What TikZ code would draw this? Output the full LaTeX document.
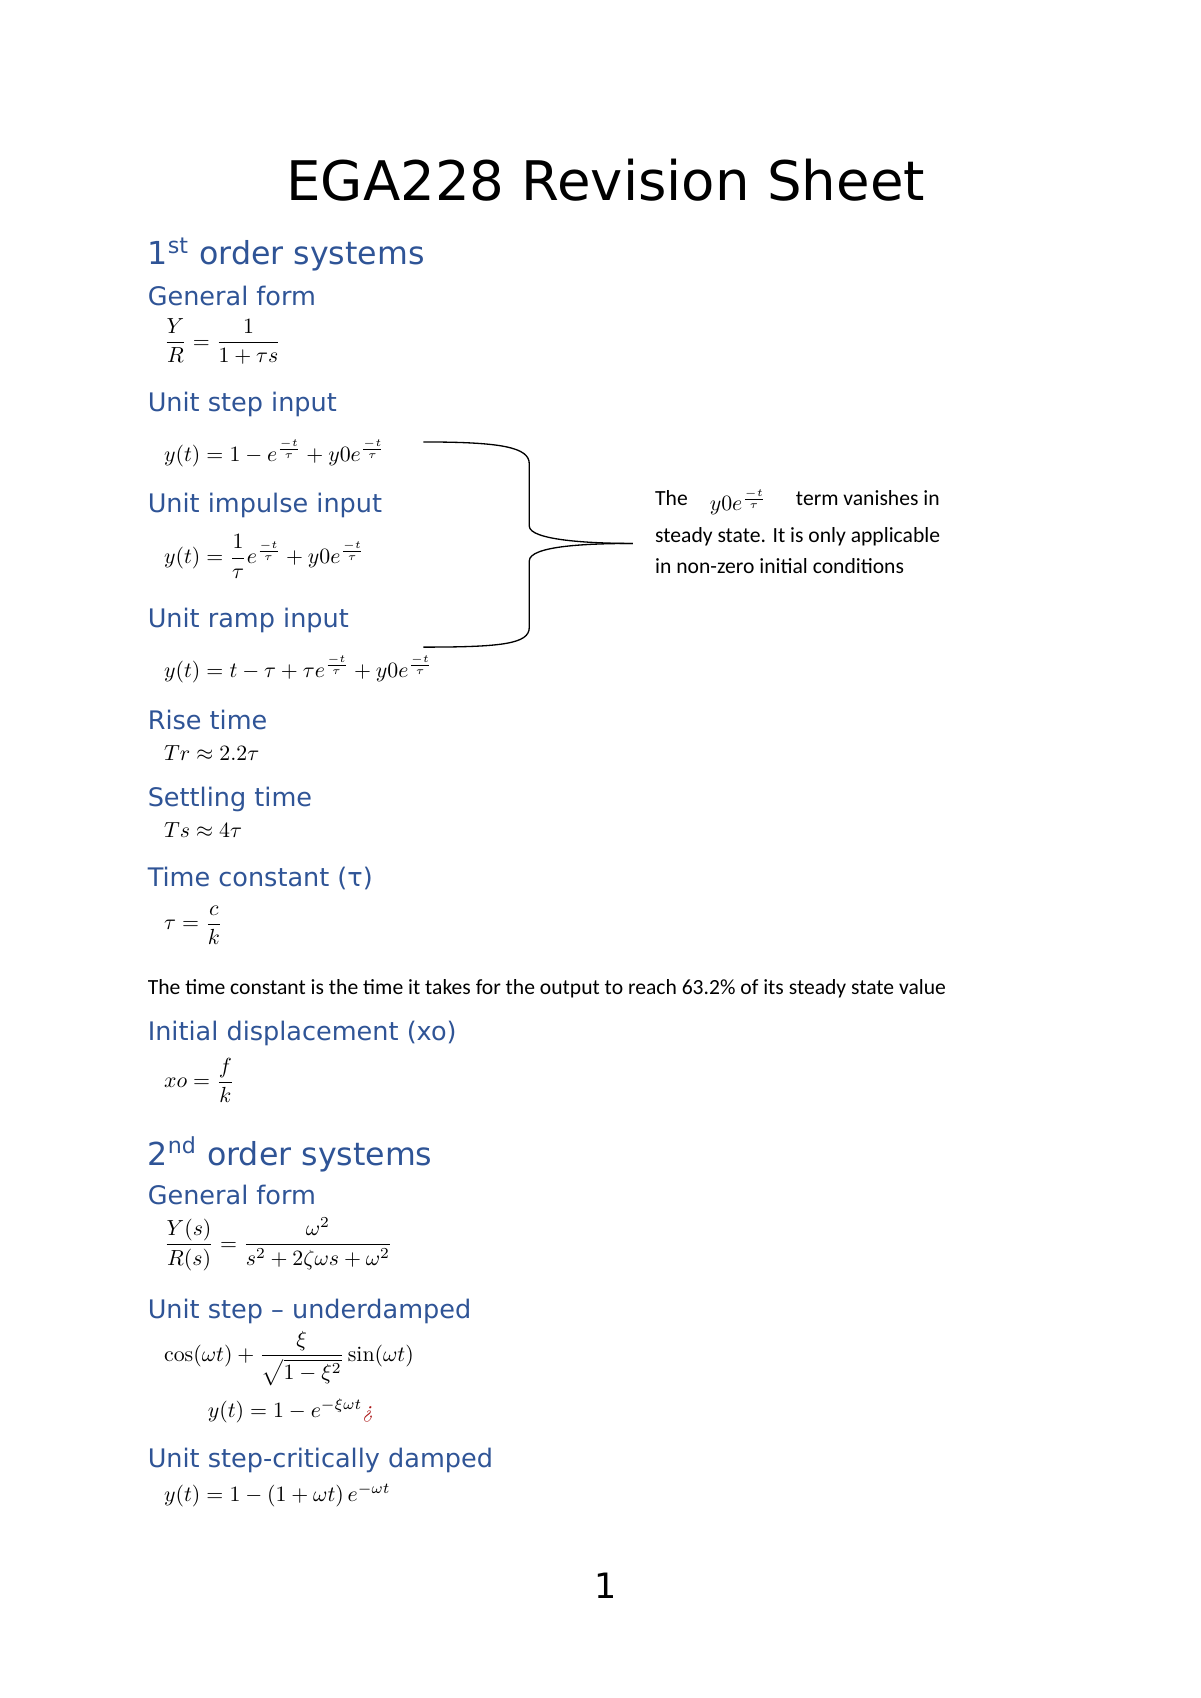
\documentclass[tikz,border=0pt]{standalone}
\usepackage{fix-cm}
\usepackage{amsmath}
\usepackage{fontspec}
\setsansfont{DejaVu Sans}
\newfontfamily\bodyf{Carlito}
\definecolor{hblue}{RGB}{47,84,150}
\definecolor{qred}{RGB}{170,20,20}
\tikzset{
 ttl/.style={anchor=center,font=\sffamily\fontsize{25}{27}\selectfont},
 h1/.style={anchor=west,text=hblue,font=\sffamily\fontsize{14.5}{17}\selectfont,inner sep=0},
 h2/.style={anchor=west,text=hblue,font=\sffamily\fontsize{11.7}{13}\selectfont,inner sep=0},
 eq/.style={anchor=west,inner sep=0,font=\fontsize{10}{12}\selectfont},
 body/.style={anchor=west,inner sep=0,font=\bodyf\fontsize{9.9}{11}\selectfont},
 brace/.style={draw,line width=0.6pt}
}
\begin{document}
\begin{tikzpicture}[x=0.5pt,y=-0.5pt]
\useasboundingbox (0,0) rectangle (1100,1556);
\node[ttl] (title) at (555,165) {EGA228 Revision Sheet};
\node[h1] (s1) at (135,233) {1\textsuperscript{st} order systems};
\node[h2] (g1) at (135,271) {General form};
\node[eq] (e1) at (150,313) {$\dfrac{Y}{R}=\dfrac{1}{1+\tau s}$};
\node[h2] (us) at (135,371) {Unit step input};
\node[eq] (e2) at (150,415) {$y(t)=1-e^{\frac{-t}{\tau}}+y0e^{\frac{-t}{\tau}}$};
\node[h2] (ui) at (135,463) {Unit impulse input};
\node[eq] (e3) at (150,510) {$y(t)=\dfrac{1}{\tau}e^{\frac{-t}{\tau}}+y0e^{\frac{-t}{\tau}}$};
\node[h2] (ur) at (135,569) {Unit ramp input};
\node[eq] (e4) at (150,613) {$y(t)=t-\tau+\tau e^{\frac{-t}{\tau}}+y0e^{\frac{-t}{\tau}}$};
\node[h2] (rt) at (135,660) {Rise time};
\node[eq] (e5) at (150,690) {$Tr\approx 2.2\tau$};
\node[h2] (st) at (135,733) {Settling time};
\node[eq] (e6) at (150,761) {$Ts\approx 4\tau$};
\node[h2] (tc) at (135,805) {Time constant (τ)};
\node[eq] (e7) at (150,848) {$\tau=\dfrac{c}{k}$};
\node[body] (b1) at (135,906) {The time constant is the time it takes for the output to reach 63.2\% of its steady state value};
\node[h2] (id) at (135,947) {Initial displacement (xo)};
\node[eq] (e8) at (150,990) {$xo=\dfrac{f}{k}$};
\node[h1] (s2) at (135,1058) {2\textsuperscript{nd} order systems};
\node[h2] (g2) at (135,1095) {General form};
\node[eq] (e9) at (150,1140) {$\dfrac{Y(s)}{R(s)}=\dfrac{\omega^2}{s^2+2\zeta\omega s+\omega^2}$};
\node[h2] (ud) at (135,1202) {Unit step – underdamped};
\node[eq] (e10) at (150,1245) {$\cos(\omega t)+\dfrac{\xi}{\sqrt{1-\xi^2}}\sin(\omega t)$};
\node[eq] (e11) at (190,1293) {$y(t)=1-e^{-\xi\omega t}$\textcolor{qred}{\itshape ¿}};
\node[h2] (cd) at (135,1338) {Unit step-critically damped};
\node[eq] (e12) at (150,1370) {$y(t)=1-(1+\omega t)\,e^{-\omega t}$};
\node[anchor=center,font=\sffamily\fontsize{16}{18}\selectfont] (pg) at (555,1453) {1};
% note
\node[body] (n1) at (600,456) {The};
\node[eq] (n2) at (650,460) {$y0e^{\frac{-t}{\tau}}$};
\node[body] (n3) at (729,456) {term vanishes in};
\node[body] (n4) at (600,492) {steady state. It is only applicable};
\node[body] (n5) at (600,519) {in non-zero initial conditions};
\coordinate (bt) at (388,405);
\coordinate (bm) at (580,498);
\coordinate (bb) at (388,593);
\draw[brace] (bt) .. controls (460,405) and (485,410) .. (485,425) -- (485,482) .. controls (485,495) and (540,498) .. (bm);
\draw[brace] (bm) .. controls (540,498) and (485,500) .. (485,514) -- (485,575) .. controls (485,590) and (460,593) .. (bb);
\end{tikzpicture}
\end{document}
